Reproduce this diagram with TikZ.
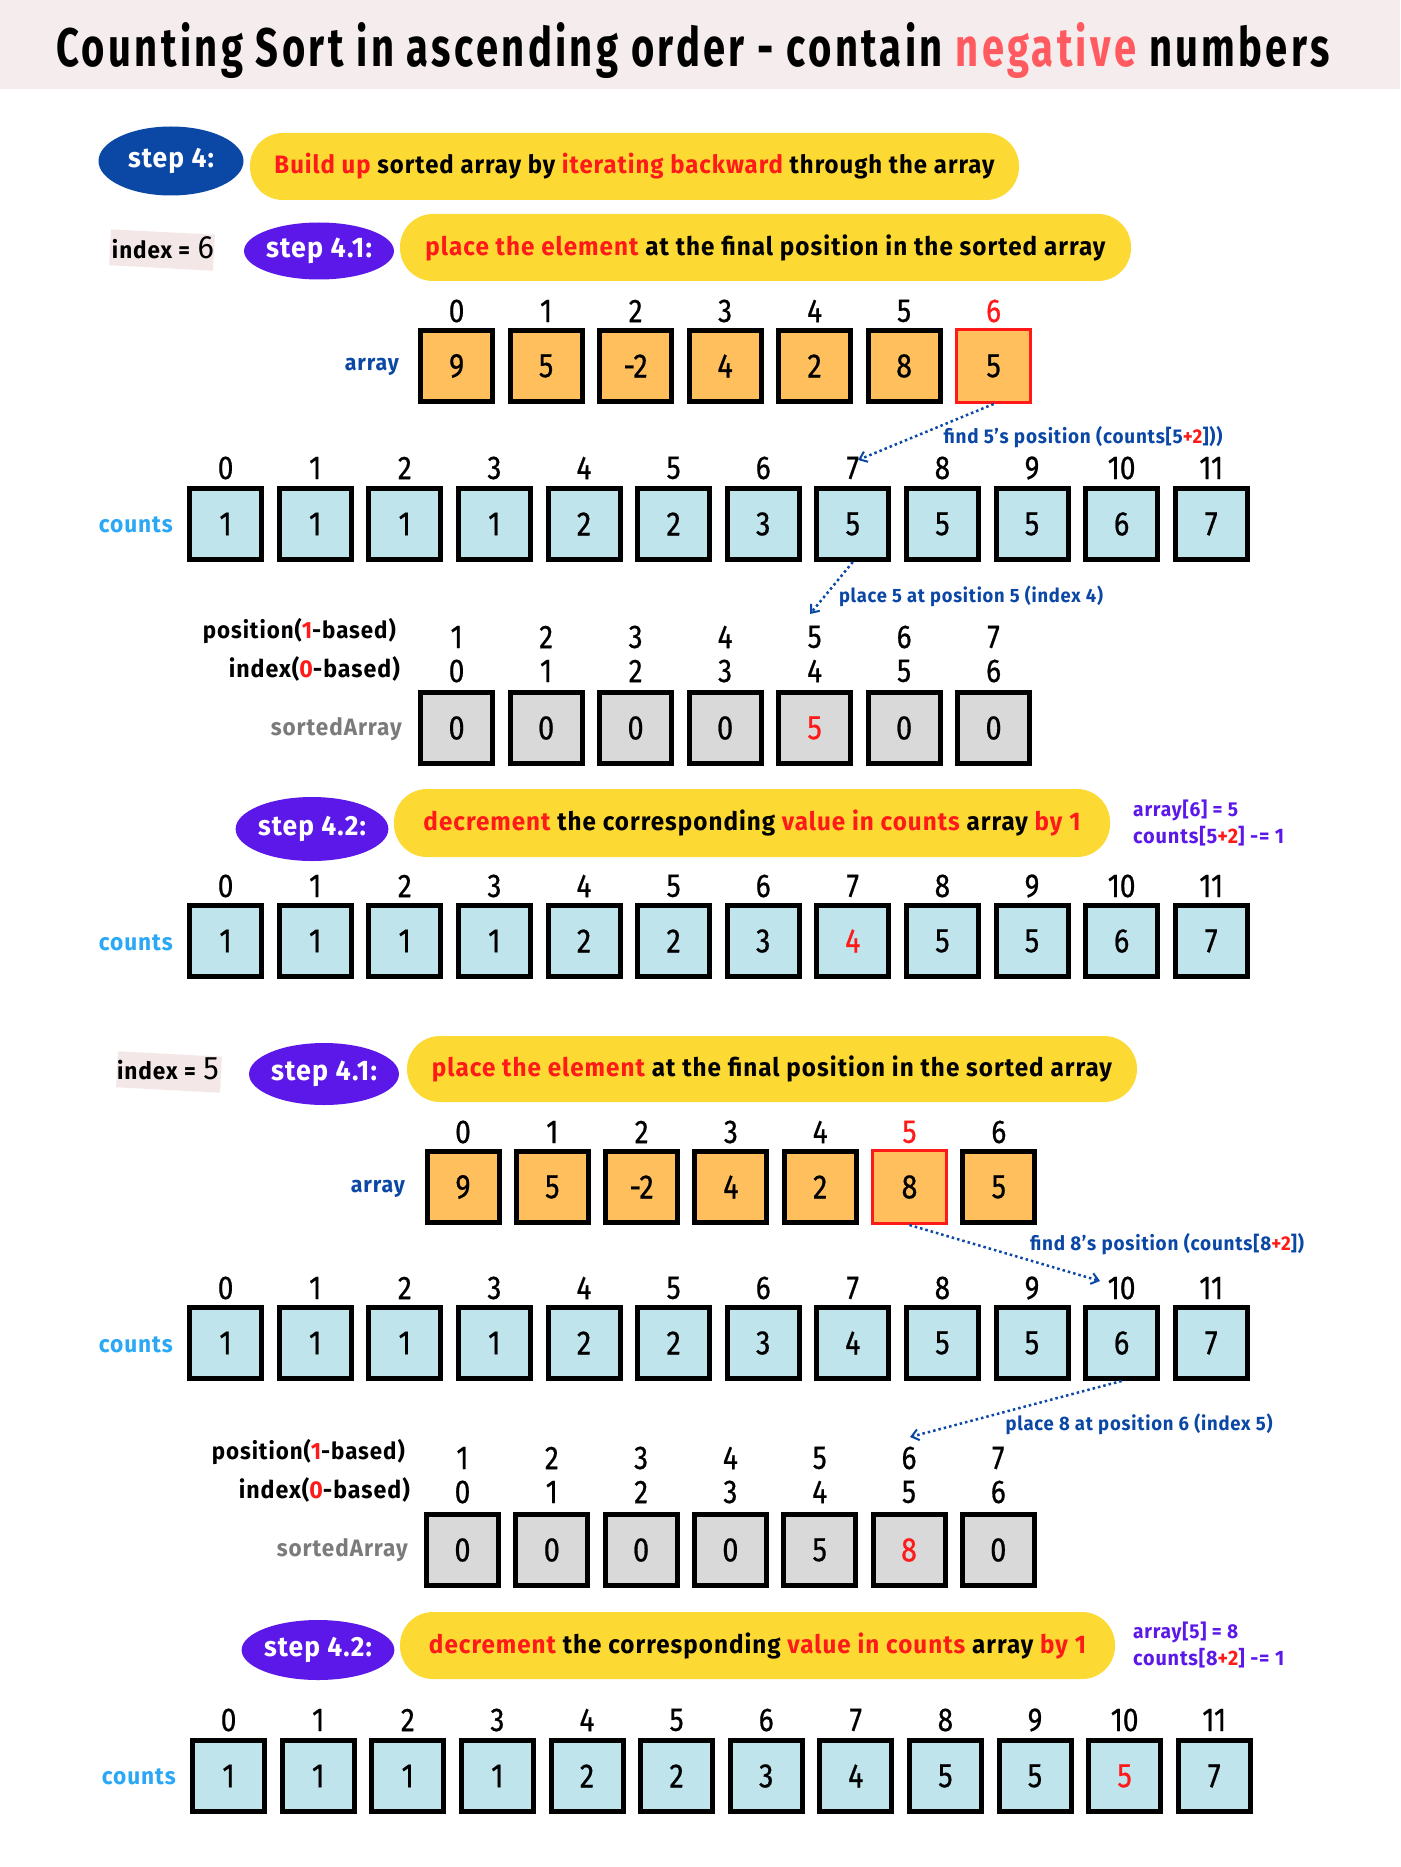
\documentclass[tikz,border=0pt]{standalone}
\usepackage{fontspec}
\setmainfont{Fira Sans}[FakeStretch=0.95,LetterSpace=4]
\usepackage{graphicx}
\usetikzlibrary{shapes.geometric,arrows.meta}
\definecolor{bandC}{HTML}{F5ECED}
\definecolor{salmon}{HTML}{FF5A5F}
\definecolor{redT}{HTML}{FF1A1A}
\definecolor{navyC}{HTML}{0B47A5}
\definecolor{purpC}{HTML}{5B18E8}
\definecolor{yelC}{HTML}{FDDA33}
\definecolor{oraC}{HTML}{FFBF5C}
\definecolor{bluC}{HTML}{BFE4EC}
\definecolor{gryC}{HTML}{D9D9D9}
\definecolor{skyC}{HTML}{2AA8F6}
\definecolor{gtxC}{HTML}{7B7B7B}
\definecolor{pinkC}{HTML}{F4E7E8}
\newcommand\fw[2]{\resizebox{#1pt}{!}{#2}}
\newcommand\digfont[1]{\fontsize{#1}{#1}\selectfont\addfontfeature{FakeBold=0.6,FakeStretch=0.85,LetterSpace=0}}
\tikzset{
  cell/.style={draw=black, line width=5pt, minimum width=72pt, minimum height=71pt, inner sep=0pt, font=\digfont{34}},
  ocell/.style={cell, fill=oraC},
  ocellr/.style={cell, fill=oraC, draw=redT, line width=3pt, minimum width=74pt, minimum height=73pt},
  bcell/.style={cell, fill=bluC},
  gcell/.style={cell, fill=gryC},
  idx/.style={inner sep=0pt, font=\digfont{33}},
  stepE/.style={ellipse, inner sep=0pt, text=white, font=\bfseries\fontsize{28}{28}\selectfont},
  pill/.style={fill=yelC, rounded corners=33pt, inner sep=0pt, font=\bfseries\fontsize{26}{26}\selectfont},
  lbl/.style={inner sep=0pt, anchor=east, font=\bfseries\fontsize{24}{24}\selectfont},
  anno/.style={inner sep=0pt, text=navyC, font=\bfseries\fontsize{20}{20}\selectfont},
  panno/.style={inner sep=0pt, anchor=west, text=purpC, font=\bfseries\fontsize{18}{18}\selectfont},
  idxbg/.style={fill=pinkC, minimum width=104pt, minimum height=36pt, inner sep=0pt, rotate=-3},
  darr/.style={draw=navyC, line width=2.5pt, dash pattern=on 2.5pt off 3pt, -{Straight Barb[length=7pt,width=11pt,line width=2pt]}}
}
\begin{document}
\begin{tikzpicture}[x=1pt,y=-1pt]
\useasboundingbox (0,0) rectangle (1400,1867);
\fill[white] (0,0) rectangle (1400,1867);
\fill[bandC] (0,0) rectangle (1400,89);
\node[inner sep=0pt, anchor=base] (title) at (693,67) {\resizebox{1273pt}{44pt}{\bfseries\addfontfeature{LetterSpace=8} Counting Sort in ascending order - contain \textcolor{salmon}{negative} numbers}};

% step 4
\node[stepE, fill=navyC, minimum width=145pt, minimum height=69pt] (E4) at (171,161) {\fw{86}{step 4:}};
\node[pill, minimum width=769pt, minimum height=67pt] (P4) at (634.5,166.5) {\fw{720}{\textcolor{redT}{Build up} sorted array by \textcolor{redT}{iterating backward} through the array}};

% ===== index 6 =====
\node[idxbg] (I6bg) at (162,250) {};
\node[inner sep=0pt] (I6) at (163,248) {\fw{102}{{\bfseries\fontsize{22}{22}\selectfont index =}\hspace{7pt}{\fontsize{30}{30}\selectfont 6}}};
\node[stepE, fill=purpC, minimum width=145pt, minimum height=57pt] (E41a) at (319,251) {\fw{106}{step 4.1:}};
\node[pill, minimum width=731pt, minimum height=67pt] (P41a) at (765.5,247.5) {\fw{680}{\textcolor{redT}{place the element} at the final position in the sorted array}};

\node[lbl, text=navyC] (Albl) at (399,367) {\fw{54}{array}};
\foreach \v/\s/\c [count=\i from 0] in {9/ocell/black,5/ocell/black,-2/ocell/black,4/ocell/black,2/ocell/black,8/ocell/black,5/ocellr/redT}{
  \node[\s] (A\i) at ({456.6+89.5*\i},366) {\v};
  \node[idx, text=\c] (Ai\i) at ({456.6+89.5*\i},311) {\i};
}

\node[lbl, text=skyC] (C1lbl) at (173,525) {\fw{74}{counts}};
\foreach \v [count=\i from 0] in {1,1,1,1,2,2,3,5,5,5,6,7}{
  \node[bcell] (C1c\i) at ({225.6+89.6*\i},524) {\v};
  \node[idx] (C1i\i) at ({225.6+89.6*\i},468) {\i};
}
\node[anno] (T1) at (1083,437) {\fw{279}{find 5's position (counts[5\textcolor{redT}{+2}]))}};
\coordinate (e1) at (858,460);
\draw[darr] (A6.south) -- (e1);

\node[anno] (T2) at (971,596) {\fw{264}{place 5 at position 5 (index 4)}};
\coordinate (e2) at (810,614);
\draw[darr] (C1c7.south) -- (e2);

\node[lbl] (pos1) at (396,631) {\fw{193}{position(\textcolor{redT}{1}-based)}};
\node[lbl] (ix1) at (400,669) {\fw{171}{index(\textcolor{redT}{0}-based)}};
\node[lbl, text=gtxC] (S1lbl) at (402,729) {\fw{131}{sortedArray}};
\foreach \v/\c [count=\i from 0] in {0/black,0/black,0/black,0/black,5/redT,0/black,0/black}{
  \node[gcell, text=\c] (S1c\i) at ({456.6+89.5*\i},728) {\v};
  \node[idx] (S1p\i) at ({456.6+89.5*\i},637) {\pgfmathparse{int(\i+1)}\pgfmathresult};
  \node[idx] (S1i\i) at ({456.6+89.5*\i},671) {\i};
}

\node[stepE, fill=purpC, minimum width=144pt, minimum height=64pt] (E42a) at (312,829) {\fw{108}{step 4.2:}};
\node[pill, minimum width=716pt, minimum height=68pt] (P42a) at (752,823) {\fw{657}{\textcolor{redT}{decrement} the corresponding \textcolor{redT}{value in counts} array \textcolor{redT}{by 1}}};
\node[panno] (N1a) at (1133,810) {\fw{105}{array[6] = 5}};
\node[panno] (N1b) at (1133,836) {\fw{151}{counts[5\textcolor{redT}{+2}] -= 1}};

\node[lbl, text=skyC] (C2lbl) at (173,943) {\fw{74}{counts}};
\foreach \v/\c [count=\i from 0] in {1/black,1/black,1/black,1/black,2/black,2/black,3/black,4/redT,5/black,5/black,6/black,7/black}{
  \node[bcell, text=\c] (C2c\i) at ({225.6+89.6*\i},941) {\v};
  \node[idx] (C2i\i) at ({225.6+89.6*\i},886) {\i};
}

% ===== index 5 =====
\node[idxbg] (I5bg) at (169,1072) {};
\node[inner sep=0pt] (I5) at (168,1069) {\fw{102}{{\bfseries\fontsize{22}{22}\selectfont index =}\hspace{7pt}{\fontsize{30}{30}\selectfont 5}}};
\node[stepE, fill=purpC, minimum width=143pt, minimum height=62pt] (E41b) at (324,1074) {\fw{106}{step 4.1:}};
\node[pill, minimum width=730pt, minimum height=66pt] (P41b) at (772,1069) {\fw{680}{\textcolor{redT}{place the element} at the final position in the sorted array}};

\node[lbl, text=navyC] (Blbl) at (405,1189) {\fw{54}{array}};
\foreach \v/\s/\c [count=\i from 0] in {9/ocell/black,5/ocell/black,-2/ocell/black,4/ocell/black,2/ocell/black,8/ocellr/redT,5/ocell/black}{
  \node[\s] (B\i) at ({463+89.3*\i},1187) {\v};
  \node[idx, text=\c] (Bi\i) at ({463+89.3*\i},1132) {\i};
}

\node[lbl, text=skyC] (C3lbl) at (173,1345) {\fw{74}{counts}};
\foreach \v [count=\i from 0] in {1,1,1,1,2,2,3,4,5,5,6,7}{
  \node[bcell] (C3c\i) at ({225.6+89.6*\i},1343) {\v};
  \node[idx] (C3i\i) at ({225.6+89.6*\i},1288) {\i};
}
\node[anno] (T3) at (1167,1244) {\fw{274}{find 8's position (counts[8\textcolor{redT}{+2}])}};
\coordinate (e3) at (1100,1281);
\draw[darr] (B5.south) -- (e3);

\node[anno] (T4) at (1139,1424) {\fw{267}{place 8 at position 6 (index 5)}};
\coordinate (e4) at (910,1437);
\draw[darr] (C3c10.south) -- (e4);

\node[lbl] (pos2) at (405,1452) {\fw{193}{position(\textcolor{redT}{1}-based)}};
\node[lbl] (ix2) at (410,1490) {\fw{171}{index(\textcolor{redT}{0}-based)}};
\node[lbl, text=gtxC] (S2lbl) at (408,1550) {\fw{131}{sortedArray}};
\foreach \v/\c [count=\i from 0] in {0/black,0/black,0/black,0/black,5/black,8/redT,0/black}{
  \node[gcell, text=\c] (S2c\i) at ({462.5+89.3*\i},1550) {\v};
  \node[idx] (S2p\i) at ({462.5+89.3*\i},1458) {\pgfmathparse{int(\i+1)}\pgfmathresult};
  \node[idx] (S2i\i) at ({462.5+89.3*\i},1492) {\i};
}

\node[stepE, fill=purpC, minimum width=143pt, minimum height=60pt] (E42b) at (318,1650) {\fw{108}{step 4.2:}};
\node[pill, minimum width=715pt, minimum height=67pt] (P42b) at (757.5,1645.5) {\fw{657}{\textcolor{redT}{decrement} the corresponding \textcolor{redT}{value in counts} array \textcolor{redT}{by 1}}};
\node[panno] (N2a) at (1133,1632) {\fw{105}{array[5] = 8}};
\node[panno] (N2b) at (1133,1658) {\fw{151}{counts[8\textcolor{redT}{+2}] -= 1}};

\node[lbl, text=skyC] (C4lbl) at (176,1777) {\fw{74}{counts}};
\foreach \v/\c [count=\i from 0] in {1/black,1/black,1/black,1/black,2/black,2/black,3/black,4/black,5/black,5/black,5/redT,7/black}{
  \node[bcell, text=\c] (C4c\i) at ({228.6+89.6*\i},1776) {\v};
  \node[idx] (C4i\i) at ({228.6+89.6*\i},1720) {\i};
}
\end{tikzpicture}
\end{document}
